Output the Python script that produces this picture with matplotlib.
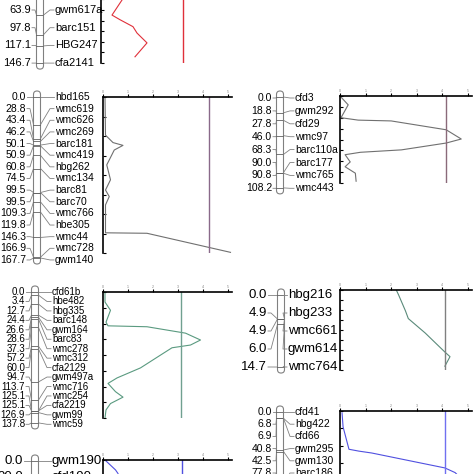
import matplotlib
matplotlib.use("Agg")
import matplotlib.pyplot as plt
from matplotlib.patches import FancyBboxPatch

plt.rcParams['font.family'] = ['Liberation Sans', 'DejaVu Sans']

W = 474

# ---- marker maps (cM, names) ----
a_pos = [63.9, 97.8, 117.1, 146.7]
a_names = ['gwm617a', 'barc151', 'HBG247', 'cfa2141']
b_pos = [0.0, 28.8, 43.4, 46.2, 50.1, 50.9, 60.8, 74.5, 99.5, 99.5, 109.3, 119.8, 146.3, 166.9, 167.7]
b_names = ['hbd165', 'wmc619', 'wmc626', 'wmc269', 'barc181', 'wmc419', 'hbg262', 'wmc134',
           'barc81', 'barc70', 'wmc766', 'hbe305', 'wmc44', 'wmc728', 'gwm140']
c_pos = [0.0, 3.4, 12.7, 24.4, 26.6, 28.6, 37.3, 57.2, 60.0, 94.7, 113.7, 125.1, 125.1, 126.9, 137.8]
c_names = ['cfd61b', 'hbe482', 'hbg335', 'barc148', 'gwm164', 'barc83', 'wmc278', 'wmc312',
           'cfa2129', 'gwm497a', 'wmc716', 'wmc254', 'cfa2219', 'gwm99', 'wmc59']
d_pos = [0.0, 90.0]
d_names = ['gwm190', 'cfd190']
e_pos = [0.0, 18.8, 27.8, 46.0, 68.3, 90.0, 90.8, 108.2]
e_names = ['cfd3', 'gwm292', 'cfd29', 'wmc97', 'barc110a', 'barc177', 'wmc765', 'wmc443']
f_pos = [0.0, 4.9, 4.9, 6.0, 14.7]
f_names = ['hbg216', 'hbg233', 'wmc661', 'gwm614', 'wmc764']
g_pos = [0.0, 6.8, 6.9, 40.8, 42.5, 77.8]
g_names = ['cfd41', 'hbg422', 'cfd66', 'gwm295', 'gwm130', 'barc186']

# ---- LOD profiles (cM, LOD) ----
a_cm = [38, 64, 72, 84, 95, 112, 136]
a_lod = [0.84, 0.44, 0.76, 1.28, 1.44, 1.84, 1.36]
b_cm = [0, 41, 49, 52, 57, 73, 89, 100, 107, 116, 146, 146.5, 167]
b_lod = [0.08, 0.1, 0.4, 0.8, 0.45, 0.15, 0.3, 0.1, 0.25, 0.1, 0.1, 1.76, 5.1]
c_cm = [0, 11, 20, 33, 37, 38, 45, 52.5, 58, 61, 69, 83, 94, 100, 109, 115, 122, 129, 137.8]
c_lod = [0.08, 0.08, 0.3, 0.12, 0.2, 1.76, 3.3, 3.9, 3.5, 2.76, 2.3, 1.5, 0.56, 0.2, 0.5, 0.8, 0.3, 0.12, 0.08]
d_cm = [0, 11, 15]
d_lod = [0.08, 0.5, 0.6]
e_cm = [0, 11, 27, 30, 31, 42, 53.5, 58.5, 67, 70, 73, 82, 88, 96, 106]
e_lod = [0.0, 0.32, 0.04, 0.71, 2.0, 4.15, 4.74, 4.15, 2.4, 0.8, 0.2, 0.4, 0.2, 0.6, 0.63]
f_cm = [0, 0.9, 3.85, 5.25, 7.9, 11.4, 12.25, 14]
f_lod = [2.2, 2.29, 2.56, 2.67, 3.33, 4.1, 4.3, 4.1]
g_cm = [2, 17, 41, 43, 45, 61, 66, 74]
g_lod = [0.08, 0.12, 0.35, 0.74, 1.24, 4.1, 4.5, 4.8]

fig = plt.figure(figsize=(4.74, 4.74), dpi=100)
base = fig.add_axes([0, 0, 1, 1])
base.set_xlim(0, W)
base.set_ylim(W, 0)
base.axis('off')


def draw_map(pos, names, xnum, xc, xname, y0, step, cm_y0, ppc, fs, top_ext=6):
    cys = [cm_y0 + p * ppc for p in pos]
    top = cm_y0 - top_ext
    bot = cys[-1] + 6
    base.add_patch(FancyBboxPatch((xc - 3.5, top), 7, bot - top,
                                  boxstyle="round,pad=0,rounding_size=3.5",
                                  fc='white', ec='#808080', lw=0.8, zorder=2))
    for i, (p, n) in enumerate(zip(pos, names)):
        ly = y0 + i * step
        cy = cys[i]
        base.text(xnum, ly, f"{p:.1f}", ha='right', va='center', fontsize=fs, zorder=4)
        base.text(xname, ly, n, ha='left', va='center', fontsize=fs, zorder=4)
        base.plot([xnum + 1, xnum + 4, xc - 3.5], [ly, ly, cy], color='#808080', lw=0.6, zorder=3)
        base.plot([xc - 3.5, xc + 3.5], [cy, cy], color='#606060', lw=0.6, zorder=3)
        base.plot([xc + 3.5, xname - 5, xname - 1], [cy, ly, ly], color='#808080', lw=0.6, zorder=3)


def draw_profile(cm, lod, x0, x1, y0, y1, cm_max, thr, color, thr_color, lod_max=5.16):
    ax = fig.add_axes([x0 / W, 1 - y1 / W, (x1 - x0) / W, (y1 - y0) / W])
    ax.plot(lod, cm, color=color, lw=0.8)
    ax.axvline(thr, color=thr_color, lw=1.0)
    ax.set_xlim(0, lod_max)
    ax.set_ylim(cm_max, 0)
    ax.patch.set_alpha(0)
    for s in ['right', 'bottom']:
        ax.spines[s].set_visible(False)
    for s in ['top', 'left']:
        ax.spines[s].set_linewidth(1.2)
    ax.xaxis.tick_top()
    ax.set_xticks(range(6))
    ax.set_xticklabels([str(v) for v in range(6)], fontsize=2.5, color='#808080')
    ax.tick_params(axis='x', length=2, pad=0.5)
    ax.tick_params(axis='y', direction='in', length=2, labelleft=False)
    ax.set_yticks([cm_max * k / 8 for k in range(9)])


# left column
draw_map(a_pos, a_names, 31, 40, 55, 10, 17.7, -22, 0.58, 8)
draw_profile(a_cm, a_lod, 101, 230, -22, 63, 146.7, 3.28, '#e0303a', '#e0303a')

draw_map(b_pos, b_names, 26, 37, 55, 97, 11.64, 97, 0.96, 7.5)
draw_profile(b_cm, b_lod, 103, 232, 97, 253, 167.7, 4.24, '#707070', '#8a6a8a')

draw_map(c_pos, c_names, 25, 35, 52, 292, 9.45, 292, 0.95, 7)
draw_profile(c_cm, c_lod, 103, 232, 292, 418, 137.8, 3.12, '#5a9a80', '#70a090')

draw_map(d_pos, d_names, 23, 35, 52, 461, 16, 461, 0.9, 9.5)
draw_profile(d_cm, d_lod, 103, 232, 460, 595, 150, 3.16, '#5050e0', '#5050e0')

# right column
draw_map(e_pos, e_names, 272, 280, 295, 98, 12.9, 97, 0.84, 7.5)
draw_profile(e_cm, e_lod, 340, 472, 96, 183, 108.2, 4.15, '#707070', '#8a6a7a')

draw_map(f_pos, f_names, 267, 281, 288, 295, 18, 295, 4.9, 9.5)
draw_profile(f_cm, f_lod, 340, 472, 290, 370, 14.7, 4.1, '#5a8a7a', '#808080')

draw_map(g_pos, g_names, 272, 280, 295, 412, 12.2, 412, 0.93, 7.5)
draw_profile(g_cm, g_lod, 340, 472, 411, 551, 150, 4.1, '#5050e0', '#7070f0')

fig.savefig('out.png', dpi=100)
